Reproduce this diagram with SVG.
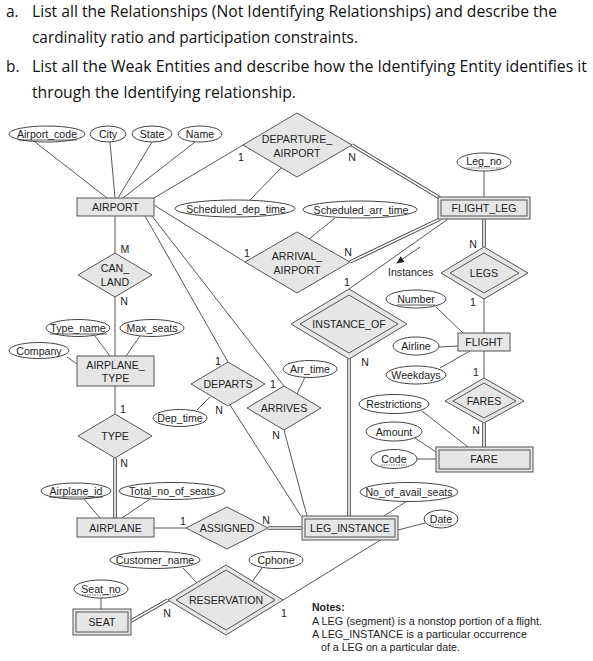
<svg xmlns="http://www.w3.org/2000/svg" width="593" height="661" viewBox="0 0 593 661">
<style>
.q{font-family:"Open Sans","Noto Sans",sans-serif;font-size:15.5px;fill:#111}
text{font-family:"Liberation Sans",Arial,sans-serif;font-size:10.6px;fill:#222}
.c{text-anchor:middle}
.ent{fill:#e6e6e6;stroke:#555;stroke-width:1}
.rel{fill:#e6e6e6;stroke:#555;stroke-width:1}
.inr{fill:none;stroke:#555;stroke-width:1}
.att{fill:#fff;stroke:#444;stroke-width:1}
.ln{stroke:#444;stroke-width:0.9;fill:none}
.d1{stroke:#444;stroke-width:3.6;fill:none}
.d2{stroke:#fff;stroke-width:1.6;fill:none}
.ul{stroke:#333;stroke-width:0.8}
.du{stroke:#333;stroke-width:0.7;stroke-dasharray:1.5 1}
.nt{font-size:10.5px}
</style>
<defs>
<marker id="arr" markerWidth="8" markerHeight="8" refX="7" refY="4" orient="auto" markerUnits="userSpaceOnUse">
<path d="M0,0.5 L8,4 L0,7.5 z" fill="#222"/>
</marker>
</defs>
<rect width="593" height="661" fill="#fff"/>

<g id="questions">
<text class="q" x="6" y="17">a.</text>
<text class="q" x="32" y="17" textLength="525" lengthAdjust="spacingAndGlyphs">List all the Relationships (Not Identifying Relationships) and describe the</text>
<text class="q" x="32" y="43" textLength="326" lengthAdjust="spacingAndGlyphs">cardinality ratio and participation constraints.</text>
<text class="q" x="6" y="72">b.</text>
<text class="q" x="32" y="72" textLength="555" lengthAdjust="spacingAndGlyphs">List all the Weak Entities and describe how the Identifying Entity identifies it</text>
<text class="q" x="32" y="98" textLength="264" lengthAdjust="spacingAndGlyphs">through the Identifying relationship.</text>
</g>

<g id="connectors">
<line class="ln" x1="35" y1="142" x2="107" y2="198"/>
<line class="ln" x1="110" y1="142" x2="115" y2="198"/>
<line class="ln" x1="152" y1="142" x2="118" y2="198"/>
<line class="ln" x1="195" y1="142" x2="123" y2="198"/>
<line class="ln" x1="154" y1="198" x2="243" y2="145"/>
<line class="d1" x1="352" y1="145" x2="440" y2="198"/><line class="d2" x1="352" y1="145" x2="440" y2="198"/>
<line class="ln" x1="281" y1="168" x2="250" y2="200"/>
<line class="ln" x1="484" y1="171" x2="484" y2="197"/>
<line class="ln" x1="154" y1="205" x2="245" y2="262"/>
<line class="d1" x1="350" y1="262" x2="440" y2="219"/><line class="d2" x1="350" y1="262" x2="440" y2="219"/>
<line class="ln" x1="335" y1="218" x2="309" y2="239"/>
<line class="ln" x1="448" y1="219" x2="349" y2="289"/>
<line class="d1" x1="484" y1="219" x2="484" y2="247"/><line class="d2" x1="484" y1="219" x2="484" y2="247"/>
<line class="ln" x1="484" y1="299" x2="484" y2="333"/>
<line class="ln" x1="436" y1="307" x2="463" y2="333"/>
<line class="ln" x1="439" y1="347" x2="458" y2="346"/>
<line class="ln" x1="440" y1="368" x2="470" y2="351"/>
<line class="ln" x1="484" y1="351" x2="484" y2="378"/>
<line class="d1" x1="484" y1="423" x2="484" y2="447"/><line class="d2" x1="484" y1="423" x2="484" y2="447"/>
<line class="ln" x1="422" y1="411" x2="468" y2="447"/>
<line class="ln" x1="415" y1="438" x2="436" y2="452"/>
<line class="ln" x1="417" y1="459" x2="436" y2="459"/>
<line class="ln" x1="115" y1="216" x2="115" y2="253"/>
<line class="ln" x1="115" y1="297" x2="115" y2="356"/>
<line class="ln" x1="95" y1="336" x2="110" y2="356"/>
<line class="ln" x1="140" y1="336" x2="126" y2="356"/>
<line class="ln" x1="67" y1="357" x2="77" y2="364"/>
<line class="ln" x1="115" y1="386" x2="115" y2="414"/>
<line class="d1" x1="115" y1="458" x2="115" y2="518"/><line class="d2" x1="115" y1="458" x2="115" y2="518"/>
<line class="ln" x1="84" y1="499" x2="100" y2="518"/>
<line class="ln" x1="150" y1="499" x2="122" y2="518"/>
<line class="ln" x1="154" y1="528" x2="186" y2="528"/>
<line class="d1" x1="268" y1="528" x2="302" y2="528"/><line class="d2" x1="268" y1="528" x2="302" y2="528"/>
<line class="ln" x1="145" y1="216" x2="228" y2="362"/>
<line class="ln" x1="152" y1="216" x2="284" y2="386"/>
<line class="ln" x1="230" y1="405" x2="301" y2="516"/>
<line class="ln" x1="197" y1="410" x2="210" y2="397"/>
<line class="ln" x1="284" y1="430" x2="307" y2="516"/>
<line class="ln" x1="305" y1="377" x2="297" y2="394"/>
<line class="d1" x1="349" y1="359" x2="349" y2="516"/><line class="d2" x1="349" y1="359" x2="349" y2="516"/>
<line class="ln" x1="407" y1="501" x2="384" y2="516"/>
<line class="ln" x1="425" y1="523" x2="398" y2="530"/>
<line class="ln" x1="382" y1="539" x2="283" y2="600"/>
<line class="ln" x1="183" y1="568" x2="197" y2="583"/>
<line class="ln" x1="262" y1="568" x2="252" y2="582"/>
<line class="ln" x1="101" y1="598" x2="101" y2="609"/>
<line class="d1" x1="131" y1="621" x2="168" y2="600"/><line class="d2" x1="131" y1="621" x2="168" y2="600"/>
<line class="ln" x1="420" y1="247" x2="397" y2="263" marker-end="url(#arr)"/>
<text x="388" y="276">Instances</text>
</g>

<g id="cardinalities">
<text class="c" x="241" y="161">1</text>
<text class="c" x="352" y="161">N</text>
<text class="c" x="247" y="257">1</text>
<text class="c" x="348" y="256">N</text>
<text class="c" x="347" y="286">1</text>
<text class="c" x="473" y="248">N</text>
<text class="c" x="473" y="306">1</text>
<text class="c" x="476" y="376">1</text>
<text class="c" x="476" y="434">N</text>
<text class="c" x="365" y="366">N</text>
<text class="c" x="125" y="253">M</text>
<text class="c" x="124" y="305">N</text>
<text class="c" x="123" y="413">1</text>
<text class="c" x="124" y="467">N</text>
<text class="c" x="183" y="525">1</text>
<text class="c" x="266" y="524">N</text>
<text class="c" x="218" y="365">1</text>
<text class="c" x="219" y="414">N</text>
<text class="c" x="273" y="388">1</text>
<text class="c" x="276" y="439">N</text>
<text class="c" x="167" y="617">N</text>
<text class="c" x="284" y="617">1</text>
</g>

<g id="airport"><rect class="ent" x="77" y="198" width="77" height="18"/><text class="c" x="115.5" y="211">AIRPORT</text></g>
<g id="airport_code"><ellipse class="att" cx="47" cy="134" rx="38" ry="8"/><text class="c" x="47" y="138">Airport_code</text><line class="ul" x1="18" y1="140" x2="77" y2="140"/></g>
<g id="city"><ellipse class="att" cx="108" cy="134" rx="18" ry="8"/><text class="c" x="108" y="138">City</text></g>
<g id="state"><ellipse class="att" cx="152" cy="134" rx="20" ry="8"/><text class="c" x="152" y="138">State</text></g>
<g id="name"><ellipse class="att" cx="200" cy="134" rx="22" ry="8"/><text class="c" x="200" y="138">Name</text></g>

<g id="departure_airport"><polygon class="rel" points="297,113 352,145 297,177 243,145"/><text class="c" x="297" y="143">DEPARTURE_</text><text class="c" x="297" y="157">AIRPORT</text></g>
<g id="scheduled_dep_time"><ellipse class="att" cx="235" cy="208.5" rx="60" ry="8.5"/><text class="c" x="236" y="212.5">Scheduled_dep_time</text></g>
<g id="scheduled_arr_time"><ellipse class="att" cx="360" cy="209.5" rx="57" ry="8.5"/><text class="c" x="361" y="213.5">Scheduled_arr_time</text></g>

<g id="flight_leg"><rect class="ent" x="438" y="197" width="92" height="22"/><rect class="inr" x="441" y="200" width="86" height="16"/><text class="c" x="484" y="212">FLIGHT_LEG</text></g>
<g id="leg_no"><ellipse class="att" cx="484" cy="162" rx="27" ry="9"/><text class="c" x="484" y="165">Leg_no</text><line class="du" x1="466" y1="168" x2="502" y2="168"/></g>

<g id="arrival_airport"><polygon class="rel" points="297,232 350,262 297,293 245,262"/><text class="c" x="297" y="260">ARRIVAL_</text><text class="c" x="297" y="274">AIRPORT</text></g>

<g id="legs"><polygon class="rel" points="484,247 528,273 484,299 441,273"/><polygon class="inr" points="484,253 519,273 484,293 450,273"/><text class="c" x="484" y="277">LEGS</text></g>

<g id="instance_of"><polygon class="rel" points="349,289 407,324 349,359 291,324"/><polygon class="inr" points="349,295 398,324 349,353 300,324"/><text class="c" x="349" y="328">INSTANCE_OF</text></g>

<g id="flight"><rect class="ent" x="458" y="333" width="52" height="18"/><text class="c" x="484" y="346">FLIGHT</text></g>
<g id="number"><ellipse class="att" cx="416" cy="299" rx="30" ry="9"/><text class="c" x="416" y="303">Number</text><line class="ul" x1="397" y1="305" x2="435" y2="305"/></g>
<g id="airline"><ellipse class="att" cx="416" cy="346" rx="23" ry="9"/><text class="c" x="416" y="350">Airline</text></g>
<g id="weekdays"><ellipse class="att" cx="416" cy="375" rx="30" ry="9"/><text class="c" x="416" y="379">Weekdays</text></g>

<g id="fares"><polygon class="rel" points="484,378 524,401 484,423 445,401"/><polygon class="inr" points="484,383 516,401 484,418 453,401"/><text class="c" x="484" y="405">FARES</text></g>
<g id="fare"><rect class="ent" x="436" y="447" width="97" height="25"/><rect class="inr" x="439" y="450" width="91" height="19"/><text class="c" x="484" y="463">FARE</text></g>
<g id="restrictions"><ellipse class="att" cx="394" cy="404" rx="35" ry="9.5"/><text class="c" x="394" y="408">Restrictions</text></g>
<g id="amount"><ellipse class="att" cx="394" cy="431.5" rx="28" ry="9.5"/><text class="c" x="394" y="435.5">Amount</text></g>
<g id="code"><ellipse class="att" cx="394" cy="459" rx="23" ry="9.5"/><text class="c" x="394" y="463">Code</text><line class="du" x1="381" y1="465" x2="407" y2="465"/></g>

<g id="can_land"><polygon class="rel" points="115,253 152,275 115,297 78,275"/><text class="c" x="115" y="272">CAN_</text><text class="c" x="115" y="286">LAND</text></g>
<g id="airplane_type"><rect class="ent" x="77" y="356" width="77" height="30"/><text class="c" x="115.5" y="369">AIRPLANE_</text><text class="c" x="115.5" y="382">TYPE</text></g>
<g id="type_name"><ellipse class="att" cx="78" cy="328" rx="32" ry="8.5"/><text class="c" x="78" y="332">Type_name</text><line class="ul" x1="50" y1="334" x2="107" y2="334"/></g>
<g id="max_seats"><ellipse class="att" cx="152" cy="328" rx="32" ry="8.5"/><text class="c" x="152" y="332">Max_seats</text></g>
<g id="company"><ellipse class="att" cx="39" cy="350.5" rx="30" ry="8"/><text class="c" x="39" y="354.5">Company</text></g>

<g id="type"><polygon class="rel" points="115,414 152,436 115,458 78,436"/><text class="c" x="115" y="440">TYPE</text></g>
<g id="airplane"><rect class="ent" x="77" y="518" width="77" height="19"/><text class="c" x="115.5" y="531.5">AIRPLANE</text></g>
<g id="airplane_id"><ellipse class="att" cx="76" cy="491" rx="35" ry="8"/><text class="c" x="76" y="495">Airplane_id</text><line class="ul" x1="49" y1="497" x2="103" y2="497"/></g>
<g id="total_no_of_seats"><ellipse class="att" cx="172" cy="491" rx="53" ry="8.5"/><text class="c" x="172" y="495">Total_no_of_seats</text></g>

<g id="assigned"><polygon class="rel" points="227,507 268,528 227,549 186,528"/><text class="c" x="227" y="532">ASSIGNED</text></g>

<g id="departs"><polygon class="rel" points="228,362 265,384 228,406 191,384"/><text class="c" x="228" y="388">DEPARTS</text></g>
<g id="dep_time"><ellipse class="att" cx="180" cy="418" rx="27" ry="8.5"/><text class="c" x="180" y="422">Dep_time</text></g>
<g id="arrives"><polygon class="rel" points="284,386 321,408 284,430 247,408"/><text class="c" x="284" y="412">ARRIVES</text></g>
<g id="arr_time"><ellipse class="att" cx="310" cy="369" rx="27" ry="8.5"/><text class="c" x="310" y="373">Arr_time</text></g>

<g id="leg_instance"><rect class="ent" x="302" y="516" width="96" height="24"/><rect class="inr" x="305" y="519" width="90" height="18"/><text class="c" x="350" y="532">LEG_INSTANCE</text></g>
<g id="no_of_avail_seats"><ellipse class="att" cx="409" cy="492" rx="49" ry="9.5"/><text class="c" x="409" y="496">No_of_avail_seats</text></g>
<g id="date"><ellipse class="att" cx="441" cy="519" rx="17" ry="9"/><text class="c" x="441" y="523">Date</text><line class="du" x1="430" y1="525" x2="452" y2="525"/></g>

<g id="reservation"><polygon class="rel" points="226,565 283,600 226,635 168,600"/><polygon class="inr" points="226,570 275,600 226,630 176,600"/><text class="c" x="226" y="604">RESERVATION</text></g>
<g id="customer_name"><ellipse class="att" cx="155" cy="560" rx="45" ry="8.5"/><text class="c" x="155" y="564">Customer_name</text></g>
<g id="cphone"><ellipse class="att" cx="276" cy="560" rx="27" ry="8.5"/><text class="c" x="276" y="564">Cphone</text></g>
<g id="seat_no"><ellipse class="att" cx="101" cy="589" rx="27" ry="9"/><text class="c" x="101" y="593">Seat_no</text><line class="du" x1="82" y1="595" x2="120" y2="595"/></g>
<g id="seat"><rect class="ent" x="73" y="609" width="58" height="26"/><rect class="inr" x="76" y="612" width="52" height="20"/><text class="c" x="102" y="626">SEAT</text></g>

<g id="notes">
<text class="nt" x="312" y="611" font-weight="bold">Notes:</text>
<text class="nt" x="312" y="625" textLength="230" lengthAdjust="spacingAndGlyphs">A LEG (segment) is a nonstop portion of a flight.</text>
<text class="nt" x="312" y="638" textLength="215" lengthAdjust="spacingAndGlyphs">A LEG_INSTANCE is a particular occurrence</text>
<text class="nt" x="321" y="651" textLength="139" lengthAdjust="spacingAndGlyphs">of a LEG on a particular date.</text>
</g>
</svg>
